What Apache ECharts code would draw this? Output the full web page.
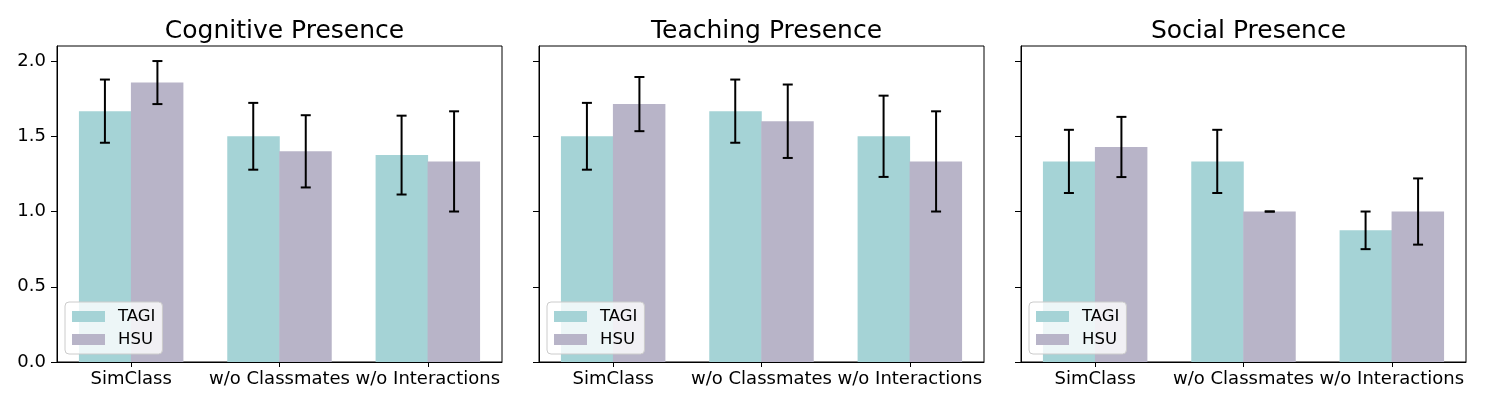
<!DOCTYPE html>
<html>
<head>
<meta charset="utf-8">
<script src="https://cdn.jsdelivr.net/npm/echarts@6/dist/echarts.min.js"></script>
<style>
html,body{margin:0;padding:0;background:#fff;}
#chart{width:1502px;height:405px;}
</style>
</head>
<body>
<div id="chart"></div>
<script>
const categories = ['SimClass', 'w/o Classmates', 'w/o Interactions'];
const panelTitles = ['Cognitive Presence', 'Teaching Presence', 'Social Presence'];
const seriesNames = ['TAGI', 'HSU'];
const yTicks = [0, 0.5, 1.0, 1.5, 2.0];

const tagiCognitive = [1.667, 1.5, 1.375];
const tagiCognitiveErr = [0.21, 0.222, 0.262];
const hsuCognitive = [1.857, 1.4, 1.333];
const hsuCognitiveErr = [0.143, 0.24, 0.333];

const tagiTeaching = [1.5, 1.667, 1.5];
const tagiTeachingErr = [0.222, 0.21, 0.27];
const hsuTeaching = [1.714, 1.6, 1.333];
const hsuTeachingErr = [0.18, 0.244, 0.333];

const tagiSocial = [1.333, 1.333, 0.875];
const tagiSocialErr = [0.21, 0.21, 0.125];
const hsuSocial = [1.429, 1.0, 1.0];
const hsuSocialErr = [0.2, 0, 0.22];

const panels = [
  {tagi: tagiCognitive, tagiErr: tagiCognitiveErr, hsu: hsuCognitive, hsuErr: hsuCognitiveErr},
  {tagi: tagiTeaching, tagiErr: tagiTeachingErr, hsu: hsuTeaching, hsuErr: hsuTeachingErr},
  {tagi: tagiSocial, tagiErr: tagiSocialErr, hsu: hsuSocial, hsuErr: hsuSocialErr}
];

const COLORS = ['#a5d3d6', '#b8b4c8'];
const FONT = 'DejaVu Sans';
const BAR_W = 52.5;
const CAP = 5;

const gridLefts = [57, 539, 1021];
const GRID_W = 445;

const option = {
  animation: false,
  backgroundColor: '#fff',
  textStyle: {fontFamily: FONT},
  title: [],
  legend: [],
  grid: [],
  xAxis: [],
  yAxis: [],
  series: []
};

function errRender(side) {
  return function (params, api) {
    const idx = api.value(0);
    const lo = api.coord([idx, api.value(1)]);
    const hi = api.coord([idx, api.value(2)]);
    const x = lo[0] + side * BAR_W / 2;
    const style = {stroke: '#000', lineWidth: 2};
    return {
      type: 'group',
      children: [
        {type: 'line', shape: {x1: x, y1: lo[1], x2: x, y2: hi[1]}, style: style},
        {type: 'line', shape: {x1: x - CAP, y1: lo[1], x2: x + CAP, y2: lo[1]}, style: style},
        {type: 'line', shape: {x1: x - CAP, y1: hi[1], x2: x + CAP, y2: hi[1]}, style: style}
      ]
    };
  };
}

panels.forEach(function (p, i) {
  const left = gridLefts[i];
  option.title.push({
    text: panelTitles[i],
    left: left + GRID_W / 2,
    top: 14,
    textAlign: 'center',
    textStyle: {fontFamily: FONT, fontSize: 25, fontWeight: 'normal', color: '#000'}
  });
  option.grid.push({
    left: left, width: GRID_W, top: 46, height: 316,
    show: true, borderColor: '#000', borderWidth: 1, backgroundColor: 'transparent'
  });
  option.legend.push({
    data: seriesNames,
    orient: 'vertical',
    left: left + 8,
    top: 302,
    itemWidth: 33,
    itemHeight: 11,
    itemGap: 6,
    padding: [6, 7, 6, 7],
    backgroundColor: 'rgba(255,255,255,0.8)',
    borderColor: '#cccccc',
    borderWidth: 1,
    borderRadius: 4,
    selectedMode: false,
    icon: 'rect',
    textStyle: {fontFamily: FONT, fontSize: 16.5, color: '#000', padding: [0, 0, 0, 8]}
  });
  option.xAxis.push({
    type: 'category',
    gridIndex: i,
    data: categories,
    axisLine: {show: true, lineStyle: {color: '#000', width: 1}},
    axisTick: {show: true, alignWithLabel: true, length: 5, lineStyle: {color: '#000'}},
    axisLabel: {fontFamily: FONT, fontSize: 18, color: '#000', margin: 8, interval: 0},
    splitLine: {show: false}
  });
  option.yAxis.push({
    type: 'value',
    gridIndex: i,
    min: 0,
    max: 2.1,
    interval: 0.5,
    axisLine: {show: true, lineStyle: {color: '#000', width: 1}},
    axisTick: {show: true, length: 6, inside: false, customValues: yTicks, lineStyle: {color: '#000'}},
    axisLabel: {
      show: i === 0, fontFamily: FONT, fontSize: 18, color: '#000', margin: 11,
      customValues: yTicks,
      formatter: function (v) { return v.toFixed(1); }
    },
    splitLine: {show: false}
  });
  option.series.push({
    name: 'TAGI', type: 'bar', xAxisIndex: i, yAxisIndex: i,
    data: p.tagi, barWidth: BAR_W, barGap: '-1%',
    itemStyle: {color: COLORS[0]}
  });
  option.series.push({
    name: 'HSU', type: 'bar', xAxisIndex: i, yAxisIndex: i,
    data: p.hsu, barWidth: BAR_W, barGap: '-1%',
    itemStyle: {color: COLORS[1]}
  });
  option.series.push({
    type: 'custom', xAxisIndex: i, yAxisIndex: i, z: 10,
    renderItem: errRender(-1),
    data: p.tagi.map(function (v, k) { return [k, v - p.tagiErr[k], v + p.tagiErr[k]]; })
  });
  option.series.push({
    type: 'custom', xAxisIndex: i, yAxisIndex: i, z: 10,
    renderItem: errRender(1),
    data: p.hsu.map(function (v, k) { return [k, v - p.hsuErr[k], v + p.hsuErr[k]]; })
  });
});

const chart = echarts.init(document.getElementById('chart'), null, {renderer: 'canvas'});
chart.setOption(option);
</script>
</body>
</html>
